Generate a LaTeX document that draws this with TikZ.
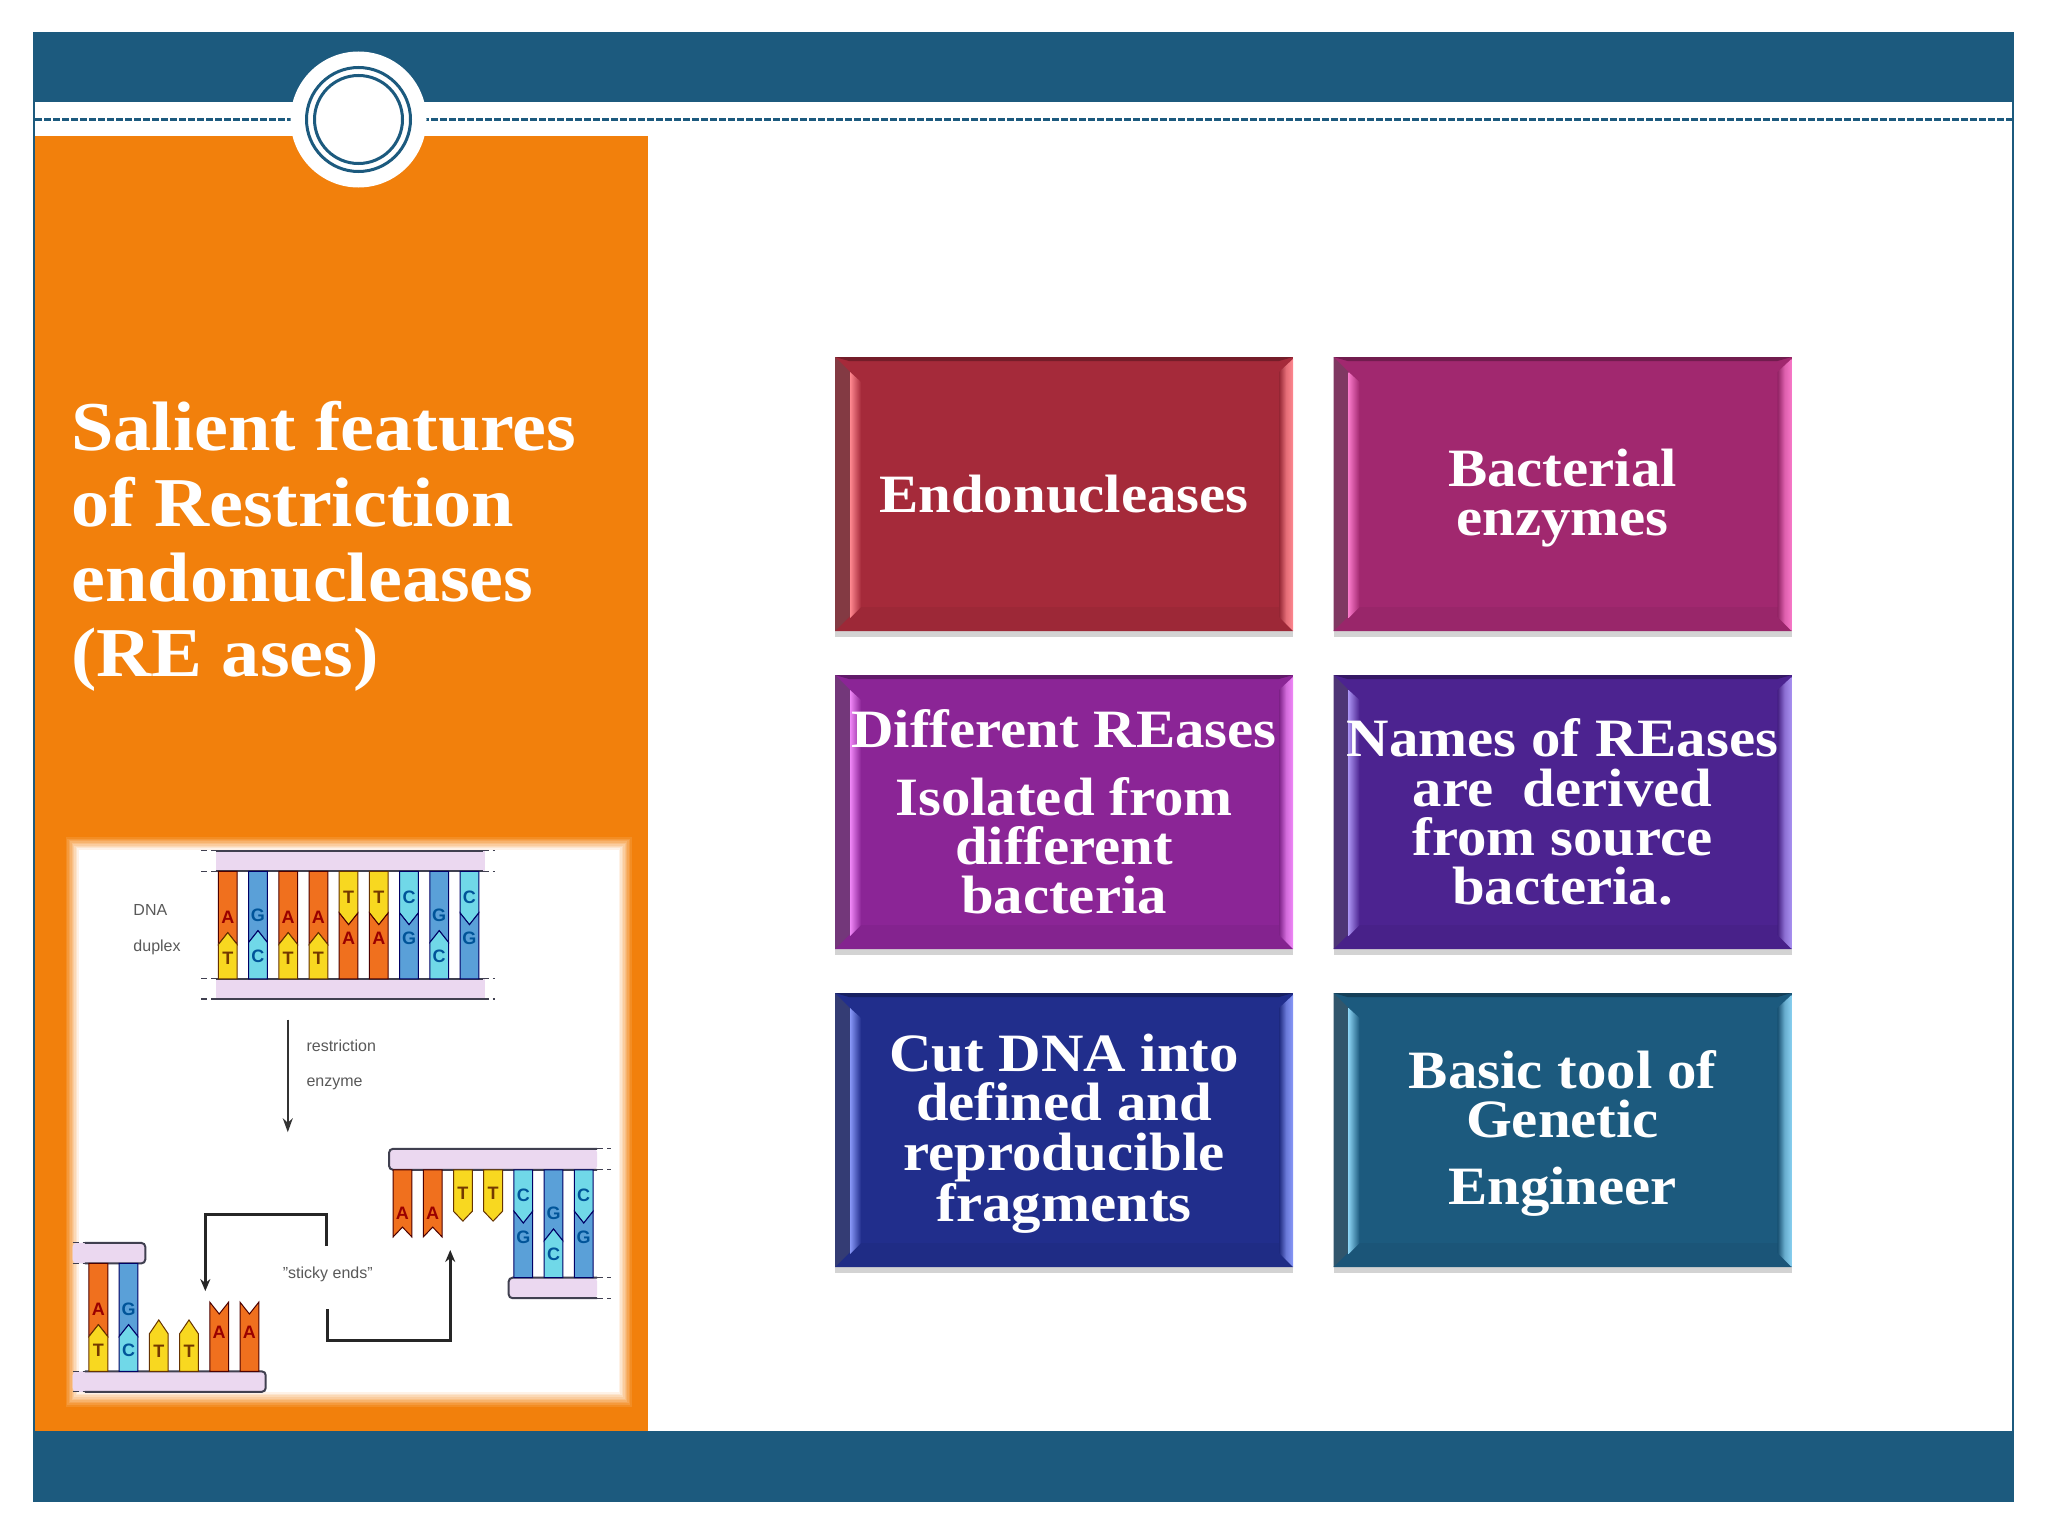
\documentclass[tikz,border=0pt]{standalone}
\usepackage{fontspec}
\setmainfont[FakeStretch=1.09]{Liberation Serif}
\setsansfont{Liberation Sans}
\usetikzlibrary{positioning}
\usetikzlibrary{calc}
\usetikzlibrary{shadows}
\usetikzlibrary{arrows.meta}

\definecolor{slideblue}{HTML}{1C5A7E}
\definecolor{slideorange}{HTML}{F2800C}
\definecolor{redbox}{HTML}{A52A3A}
\definecolor{redlight}{HTML}{FF8890}
\definecolor{magentabox}{HTML}{A1286F}
\definecolor{magentalight}{HTML}{F878C8}
\definecolor{purplebox}{HTML}{8B2596}
\definecolor{purplelight}{HTML}{F088F8}
\definecolor{indigobox}{HTML}{4C2390}
\definecolor{indigolight}{HTML}{A890F0}
\definecolor{navybox}{HTML}{212E8C}
\definecolor{navylight}{HTML}{8898F8}
\definecolor{tealbox}{HTML}{1C5A7E}
\definecolor{teallight}{HTML}{88D0F0}
\definecolor{bandpink}{HTML}{EBD8F0}
\definecolor{bandline}{HTML}{404050}
\definecolor{adenine}{HTML}{F0701E}
\definecolor{thymine}{HTML}{F8D820}
\definecolor{guanine}{HTML}{5AA0D8}
\definecolor{cytosine}{HTML}{70D8E8}

% a point of the bevel, in pixels from the corner of its box
\newcommand{\bv}[2]{($(path picture bounding box.north west)+(#1,#2)$)}
\newcommand{\boxbevel}[2]{%
    \fill[#1!70!black] \bv{0}{0} -- \bv{458}{0} -- \bv{444}{4} -- \bv{14}{4} -- cycle;
    \fill[#1!95!black] \bv{14}{250} -- \bv{444}{250} -- \bv{458}{274} -- \bv{0}{274} -- cycle;
    \fill[#1!70!gray!85!black] \bv{0}{0} -- \bv{15}{15} -- \bv{15}{259} -- \bv{0}{274} -- cycle;
    \shade[left color=#2, right color=#1] \bv{15}{15} -- \bv{26}{25} -- \bv{26}{250} -- \bv{15}{261} -- cycle;
    \shade[left color=#1!90!black, right color=#2, middle color=#2!70!#1] \bv{444}{15} -- \bv{458}{2} -- \bv{458}{274} -- \bv{444}{260} -- cycle;}
\newcommand{\boxtop}{\rule{0pt}{22.5pt}}

% one base: x, flat end, corners, centre of the tip, letter, kind
\newcommand{\dnabase}[6]{%
  \draw[base#6] (#1-23,#2) -- (#1+23,#2) -- (#1+23,#3) -- (#1,#4) -- (#1-23,#3) -- cycle;
  \node[baselabel#6] at (#1,#5) {#6};}
\newcommand{\bpair}[7]{%
  \dnabase{#1}{#2}{#6+15*#7}{#6-15*#7}{#6-55}{#4}
  \dnabase{#1}{#3}{#6+15*#7}{#6-15*#7}{#6+50}{#5}}

\tikzset{
baseletter/.style={font=\sffamily\bfseries\fontsize{9}{9}\selectfont, inner sep=0pt},
baseA/.style={fill=adenine, draw=black!70!red, line width=0.5pt},
baseT/.style={fill=thymine, draw=black!60!orange, line width=0.5pt},
baseG/.style={fill=guanine, draw=black!60!blue, line width=0.5pt},
baseC/.style={fill=cytosine, draw=black!60!blue, line width=0.5pt},
baselabelA/.style={baseletter, text=red!60!black},
baselabelT/.style={baseletter, text=orange!45!black},
baselabelG/.style={baseletter, text=blue!45!cyan!60!black},
baselabelC/.style={baseletter, text=blue!45!cyan!60!black},
bandbar/.style={fill=bandpink},
bandedge/.style={draw=bandline, line width=1pt},
bandtail/.style={draw=bandline, line width=0.6pt, densely dashed},
photolabel/.style={font=\sffamily\fontsize{8}{17.7}\selectfont, text=black!65, align=left, inner sep=0pt},
stickyarrow/.style={-{Stealth[length=6pt,width=5pt]}, line width=1.5pt, black!85},
bevelbox/.style 2 args={rectangle, fill=#1, minimum width=229pt, minimum height=137pt,
  outer sep=0pt, inner sep=0pt, text=white, align=center,
  font=\bfseries\fontsize{27}{24.6}\selectfont,
  drop shadow={shadow xshift=0pt, shadow yshift=-3pt, opacity=0.35},
  path picture={\boxbevel{#1}{#2}}},
}

\begin{document}
\begin{tikzpicture}[x=0.5pt, y=-0.5pt]
\useasboundingbox (0,0) rectangle (2048,1536);

%Frame
\draw[slideblue, line width=1pt] (33.5,33.5) rectangle (2012.5,1500.5);
\fill[slideblue] (33,33) rectangle (2013,102);
\fill[slideblue] (33,1431) rectangle (2013,1501);
\fill[slideorange] (35,136) rectangle (648,1431);
\draw[slideblue, line width=1.3pt, dash pattern=on 3.25pt off 1.25pt] (35,119.5) -- (2012,119.5);
\node[circle, fill=white, minimum size=68pt, inner sep=0pt] (badge) at (358.5,119.5) {};
\node[circle, draw=slideblue, line width=1.5pt, minimum size=52pt, inner sep=0pt] (ringout) at (badge) {};
\node[circle, draw=slideblue, line width=1.5pt, minimum size=44pt, inner sep=0pt] (ringin) at (badge) {};

%Title
\node[anchor=north west, inner sep=0pt, text=white, align=left,
      font=\bfseries\fontsize{35}{37.7}\selectfont] (title) at (71,401)
      {Salient features\\of Restriction\\endonucleases\\(RE ases)};

%Boxes
\node[bevelbox={redbox}{redlight}, anchor=north west] (endo) at (835,357) {Endonucleases};
\node[bevelbox={magentabox}{magentalight}, right=20.25pt of endo] (bact) {\boxtop Bacterial\\enzymes};
\node[bevelbox={purplebox}{purplelight}, below=22pt of endo] (diff) {Different REases\\[9pt]Isolated from\\different\\bacteria};
\node[bevelbox={indigobox}{indigolight}, right=20.25pt of diff] (names) {Names of REases\\are\ \ derived\\from source\\bacteria.};
\node[bevelbox={navybox}{navylight}, below=22pt of diff] (cut) {\boxtop Cut DNA into\\defined and\\reproducible\\fragments};
\node[bevelbox={tealbox}{teallight}, right=20.25pt of cut] (tool) {\boxtop Basic tool of\\Genetic\\[9pt]Engineer};

%Photo, in units of its own
\begin{scope}[shift={(40,820)}, x=0.2041pt, y=-0.1976pt]
\foreach \i in {0,...,10} {
  \pgfmathtruncatemacro\mixp{\i*10}
  \fill[white!\mixp!slideorange] (60+3.5*\i,40+3.5*\i) rectangle (1453-3.5*\i,1488-4*\i);
}
% duplex
\fill[bandbar] (430,78) rectangle (1090,130);
\fill[bandbar] (430,402) rectangle (1090,453);
\foreach \ye in {78,130,402,453} {
  \draw[bandedge] (430,\ye) -- (1085,\ye);
  \draw[bandtail] (395,\ye) -- (430,\ye);
  \draw[bandtail] (1085,\ye) -- (1115,\ye);
}
\foreach \xc/\tb/\bb/\yj/\sg in {460/A/T/300/1, 534/G/C/295/1, 608/A/T/300/1, 682/A/T/300/1,
    756/T/A/250/-1, 830/T/A/250/-1, 904/C/G/250/-1, 978/G/C/295/1, 1052/C/G/250/-1} {
  \bpair{\xc}{130}{402}{\tb}{\bb}{\yj}{\sg}
}
\node[photolabel, anchor=north west] (duplex) at (228,213) {DNA\\duplex};
\coordinate (cutstart) at (607,505);
\coordinate (cutend) at (607,790);
\draw[-{Stealth[length=7pt,width=5pt]}, line width=1pt, black!80] (cutstart) -- (cutend);
\node[photolabel, anchor=north west] (enzyme) at (652,555) {restriction\\enzyme};

% right fragment
\fill[bandbar, rounded corners=2pt] (855,832) rectangle (1365,885);
\fill[bandbar, rounded corners=2pt] (1148,1158) rectangle (1365,1210);
\draw[bandedge, rounded corners=2pt] (1365,832) -- (855,832) -- (855,885) -- (1365,885);
\draw[bandedge, rounded corners=2pt] (1365,1158) -- (1148,1158) -- (1148,1210) -- (1365,1210);
\foreach \ye in {832,885,1158,1210} { \draw[bandtail] (1365,\ye) -- (1398,\ye); }
\foreach \xc/\kd in {888/A, 962/A} { \dnabase{\xc}{885}{1055}{1030}{995}{\kd} }
\foreach \xc/\kd in {1036/T, 1110/T} { \dnabase{\xc}{885}{990}{1015}{945}{\kd} }
\foreach \xc/\tb/\bb/\yj/\sg in {1184/C/G/1005/-1, 1258/G/C/1050/1, 1332/C/G/1005/-1} {
  \bpair{\xc}{885}{1158}{\tb}{\bb}{\yj}{\sg}
}

% left fragment
\fill[bandbar, rounded corners=2pt] (80,1070) rectangle (258,1122);
\fill[bandbar, rounded corners=2pt] (80,1395) rectangle (553,1447);
\draw[bandedge, rounded corners=2pt] (110,1070) -- (258,1070) -- (258,1122) -- (110,1122);
\draw[bandedge, rounded corners=2pt] (110,1395) -- (553,1395) -- (553,1447) -- (110,1447);
\foreach \ye in {1070,1122,1395,1447} { \draw[bandtail] (80,\ye) -- (110,\ye); }
\foreach \xc/\tb/\bb in {143/A/T, 217/G/C} { \bpair{\xc}{1122}{1395}{\tb}{\bb}{1292}{1} }
\foreach \xc in {291,365} { \dnabase{\xc}{1395}{1300}{1265}{1345}{T} }
\foreach \xc in {439,513} { \dnabase{\xc}{1395}{1220}{1250}{1295}{A} }

% sticky ends
\node[photolabel, anchor=center] (sticky) at (705,1150) {"sticky ends"};
\coordinate (leftstart) at (703,1078);
\coordinate (leftend) at (405,1192);
\coordinate (rightstart) at (705,1238);
\coordinate (rightend) at (1005,1088);
\draw[stickyarrow] (leftstart) |- (405,998) -- (leftend);
\draw[stickyarrow] (rightstart) |- (1005,1316) -- (rightend);
\end{scope}
\end{tikzpicture}
\end{document}
